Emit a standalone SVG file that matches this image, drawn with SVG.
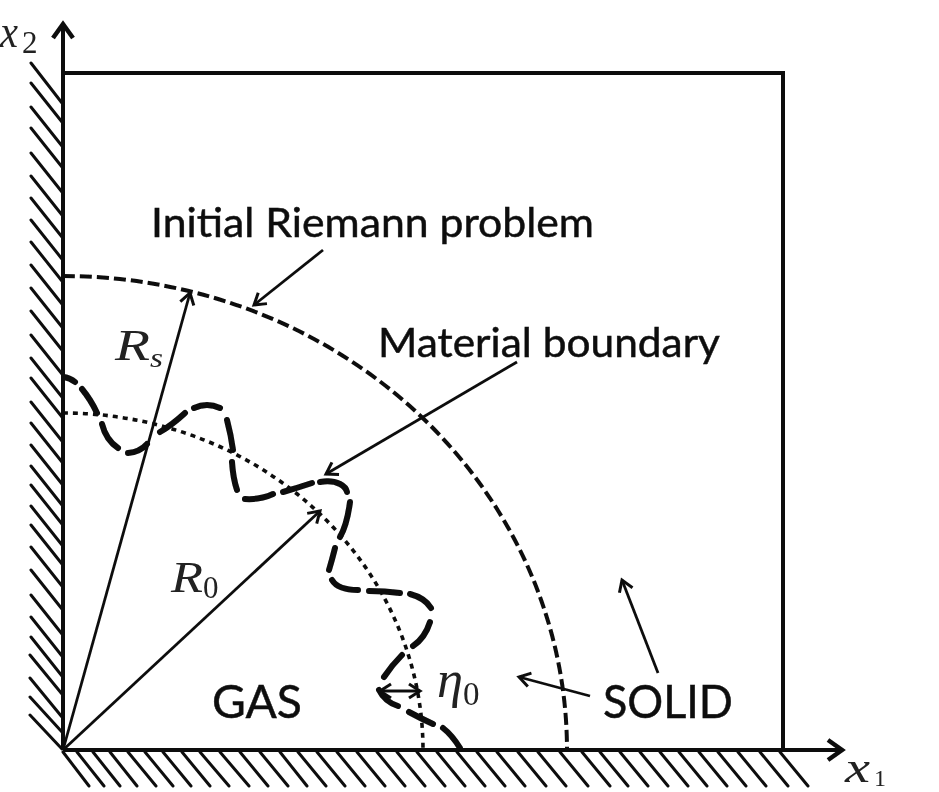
<svg xmlns="http://www.w3.org/2000/svg" width="939" height="792" viewBox="0 0 939 792">
<style>
.axis{fill:none;stroke:#0a0a0a;stroke-width:4}
.hatch{fill:none;stroke:#111;stroke-width:3;stroke-linecap:round}
.ptr{fill:none;stroke:#111;stroke-width:2.8}
.wave{fill:none;stroke:#0a0a0a;stroke-width:6;stroke-linecap:round}
.lab{font-family:"Lato","Liberation Sans",sans-serif;fill:#111;stroke:#111;stroke-width:.5}
.math{font-family:"Liberation Serif",serif;font-style:italic;fill:#222}
.sub{font-family:"Liberation Serif",serif;fill:#222}
</style>
<defs>
<filter id="soft" x="0" y="0" width="100%" height="100%"><feGaussianBlur stdDeviation="0.6"/></filter>
<marker id="vee" markerUnits="userSpaceOnUse" markerWidth="24" markerHeight="24" refX="19" refY="12" orient="auto-start-reverse"><path d="M8 5 L19 12 L8 19" fill="none" stroke="#111" stroke-width="3"/></marker>
<marker id="big" markerUnits="userSpaceOnUse" markerWidth="28" markerHeight="28" refX="22" refY="14" orient="auto"><path d="M8 4 L22 14 L8 24" fill="none" stroke="#0a0a0a" stroke-width="4.5"/></marker>
</defs>
<rect width="939" height="792" fill="#fff"/>
<g filter="url(#soft)">
<g id="walls">
<path class="hatch" d="M31 63L62 103M31 83L62 122M31 107L62 146M31 128L62 167M31 153L62 192M31 176L62 215M31 198L62 237M31 220L62 259M31 242L62 281M31 265L62 304M31 288L62 327M31 311L62 350M31 335L62 374M31 358L62 397M31 378L62 417M31 402L62 441M31 423L62 462M31 445L62 484M31 466L62 505M31 485L62 524M31 506L62 545M31 525L62 564M31 547L62 586M31 570L62 609M31 595L62 634M31 617L62 656M31 637L62 676M30 655L62 694M30 678L62 717M30 697L62 732M30 715L62 749"/>
<path class="hatch" d="M63 752L89 786M77 752L104 786M93 752L120 786M110 752L137 786M128 752L156 786M145 752L173 786M163 752L191 786M182 752L210 786M200 752L229 786M220 752L249 786M240 752L268 786M260 752L288 786M280 752L307 786M298 752L326 786M317 752L345 786M337 752L365 786M357 752L385 786M377 752L405 786M397 752L425 786M417 752L445 786M437 752L465 786M457 752L485 786M477 752L505 786M497 752L525 786M518 752L546 786M538 752L566 786M560 752L588 786M582 752L610 786M600 752L628 786M620 752L648 786M640 752L668 786M660 752L688 786M679 752L707 786M699 752L727 786M718 752L746 786M738 752L766 786M760 752L788 786M780 752L808 786"/>
</g>
<g id="axes">
<path class="axis" d="M63 750V24" marker-end="url(#big)"/>
<path class="axis" d="M63 750H842" marker-end="url(#big)"/>
<path class="axis" d="M63 73H783V750"/>
</g>
<g id="connectors">
<path d="M63 276A504 474 0 0 1 567 750" fill="none" stroke="#111" stroke-width="4" stroke-dasharray="12 5"/>
<path d="M63 413A360 337 0 0 1 423 750" fill="none" stroke="#111" stroke-width="3.6" stroke-dasharray="5 5"/>
<path class="ptr" d="M63 750L190 293" marker-end="url(#vee)"/>
<path class="ptr" d="M63 750L320 511" marker-end="url(#vee)"/>
<path class="ptr" d="M323 250L254 305" marker-end="url(#vee)"/>
<path class="ptr" d="M517 362L326 474" marker-end="url(#vee)"/>
<path class="ptr" d="M658 673L622 580" marker-end="url(#vee)"/>
<path class="ptr" d="M590 696L519 677" marker-end="url(#vee)"/>
<path class="ptr" d="M380 691H420" marker-start="url(#vee)" marker-end="url(#vee)"/>
<path class="wave" d="M64 377Q70 378 75 382M82 389Q91 400 97 413M102 424Q106 440 118 448M128 453Q140 452 147 444M160 432Q172 425 185 413M194 408Q207 402 220 408M227 420Q231 435 233 450M232 462Q233 478 237 490M245 499Q260 500 273 494M283 492Q297 488 312 483M320 482Q332 480 340 484Q346 487 347 492M350 502Q347 525 340 537M335 548Q332 560 329 570M332 580Q338 590 358 590M369 591Q385 591 400 593M410 594Q425 598 431 608M430 622Q425 638 413 646M402 655Q392 665 384 677M379 690Q385 702 398 706M409 712Q420 718 433 724M443 728Q452 735 460 748"/>
</g>
<g id="gas"><text class="lab" x="212" y="718" font-size="46" textLength="90" lengthAdjust="spacingAndGlyphs">GAS</text></g>
<g id="solid"><text class="lab" x="603" y="718" font-size="46" textLength="130" lengthAdjust="spacingAndGlyphs">SOLID</text></g>
<g id="riemann"><text class="lab" x="151" y="237" font-size="41" textLength="443" lengthAdjust="spacingAndGlyphs">Initial Riemann problem</text></g>
<g id="material"><text class="lab" x="378" y="357" font-size="40" textLength="342" lengthAdjust="spacingAndGlyphs">Material boundary</text></g>
<g id="labels">
<text class="math" x="0" y="47" font-size="46" textLength="18" lengthAdjust="spacingAndGlyphs">x</text><text class="sub" x="22" y="53" font-size="31">2</text>
<text class="math" x="115" y="360" font-size="44" textLength="35" lengthAdjust="spacingAndGlyphs">R</text><text class="math" x="150" y="367" font-size="27" textLength="13" lengthAdjust="spacingAndGlyphs">s</text>
<text class="math" x="171" y="592" font-size="44" textLength="32" lengthAdjust="spacingAndGlyphs">R</text><text class="sub" x="203" y="598" font-size="31">0</text>
<text class="math" x="437" y="697" font-size="52" textLength="26" lengthAdjust="spacingAndGlyphs">η</text><text class="sub" x="463" y="705" font-size="33">0</text>
<text class="math" x="845" y="782" font-size="44" textLength="25" lengthAdjust="spacingAndGlyphs">x</text><text class="sub" x="874" y="786" font-size="24">1</text>
</g>
</g>
</svg>
